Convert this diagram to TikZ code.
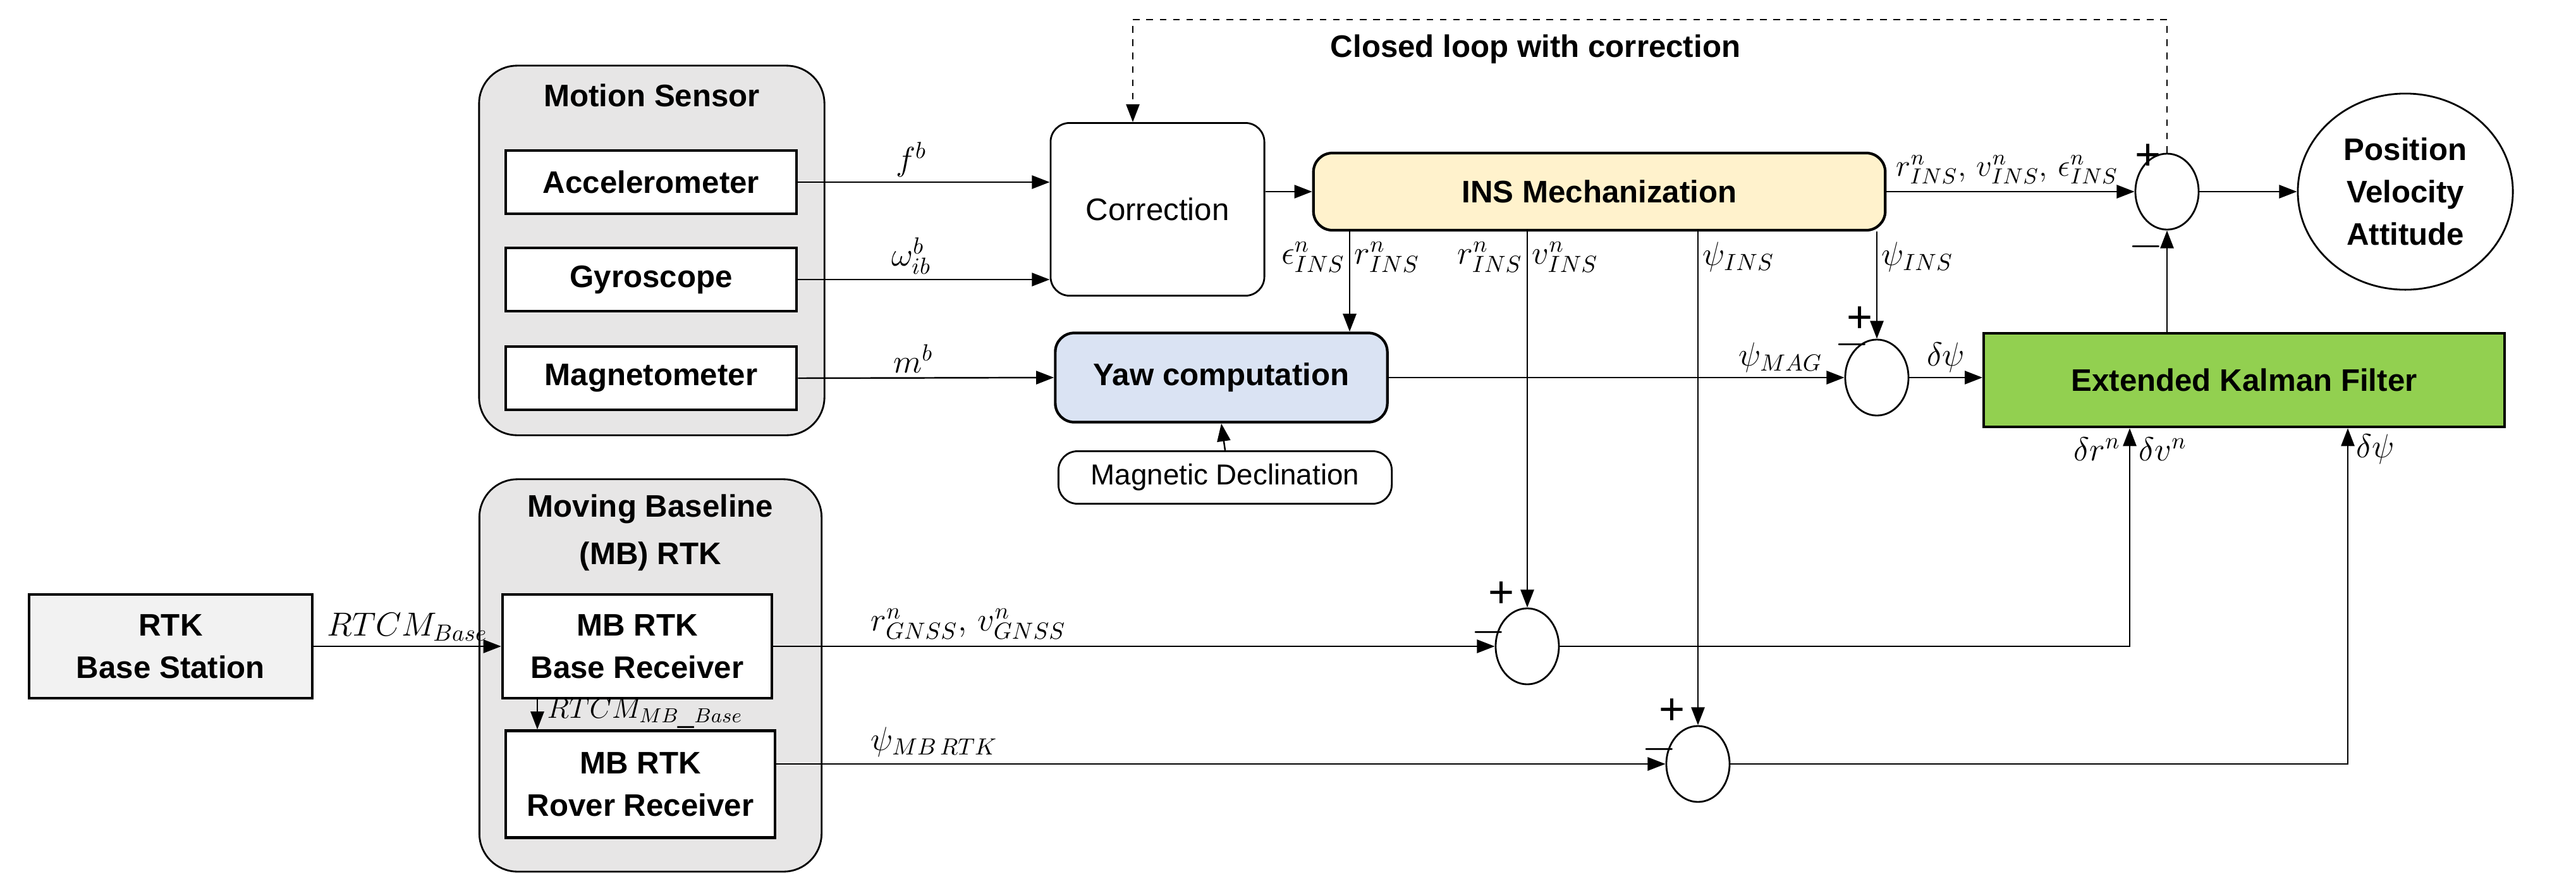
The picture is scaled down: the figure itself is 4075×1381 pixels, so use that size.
\RequirePackage{fix-cm}
\documentclass[tikz,border=0pt]{standalone}
\usepackage{fontspec}
\setmainfont{Liberation Sans}
\usetikzlibrary{arrows.meta,shapes.geometric}
\definecolor{grp}{HTML}{E7E6E6}
\definecolor{insy}{HTML}{FFF2CC}
\definecolor{yawb}{HTML}{DAE3F3}
\definecolor{ekfg}{HTML}{92D050}
\definecolor{rtkg}{HTML}{F2F2F2}
\begin{document}
\begin{tikzpicture}[x=0.01cm,y=-0.01cm,
  >={Triangle[length=8pt,width=6pt]},
  every node/.style={font=\fontsize{14}{16}\selectfont\bfseries},
  grpbox/.style={draw,line width=0.8pt,fill=grp,rounded corners=0.6cm},
  box/.style={draw,line width=1.2pt,fill=white,align=center,inner sep=0pt},
  rbox/.style={draw,line width=0.8pt,rounded corners=0.3cm,align=center,inner sep=0pt},
  sum/.style={draw,line width=0.8pt,ellipse,inner sep=0pt,minimum width=1.0cm,minimum height=1.2cm},
  lbl/.style={font=\fontsize{15}{17}\selectfont,inner sep=2pt},
  pm/.style={font=\fontsize{20}{20}\selectfont,inner sep=0pt},
  conn/.style={line width=0.7pt,->}]
\useasboundingbox (0,0) rectangle (4075,1381);
% groups
\node[grpbox,minimum width=5.46cm,minimum height=5.84cm] (ms) at (1031,396) {};
\node (mst) at (1031,151) {Motion Sensor};
\node[grpbox,minimum width=5.41cm,minimum height=6.2cm] (mbg) at (1029,1068) {};
\node (mbt1) at (1029,805) {Moving Baseline};
\node (mbt2) at (1029,880) {(MB) RTK};
% boxes
\node[box,minimum width=4.6cm,minimum height=1.0cm] (acc) at (1030,288) {Accelerometer};
\node[box,minimum width=4.6cm,minimum height=1.0cm] (gyr) at (1030,442) {Gyroscope};
\node[box,minimum width=4.6cm,minimum height=1.0cm] (mag) at (1030,598) {Magnetometer};
\node[rbox,minimum width=3.38cm,minimum height=2.73cm,font=\fontsize{14}{16}\selectfont] (cor) at (1831,331) {Correction};
\node[rbox,fill=insy,line width=1.2pt,minimum width=9.04cm,minimum height=1.22cm] (ins) at (2530,303) {INS Mechanization};
\node[rbox,fill=yawb,line width=1.2pt,minimum width=5.25cm,minimum height=1.41cm] (yaw) at (1932,597) {Yaw computation};
\node[rbox,minimum width=5.27cm,minimum height=0.83cm,font=\fontsize{13}{15}\selectfont] (dec) at (1938,755) {Magnetic Declination};
\node[sum] (s1) at (3428,303) {};
\node[draw,line width=0.8pt,ellipse,minimum width=3.4cm,minimum height=3.1cm,align=center,inner sep=0pt,font=\fontsize{14}{19}\selectfont\bfseries] (pva) at (3805,303) {Position\\Velocity\\Attitude};
\node[sum] (s2) at (2969,597) {};
\node[box,fill=ekfg,minimum width=8.23cm,minimum height=1.48cm] (ekf) at (3550,601) {Extended Kalman Filter};
\node[box,minimum width=4.26cm,minimum height=1.64cm,font=\fontsize{14}{19}\selectfont\bfseries] (mbb) at (1008,1022) {MB RTK\\Base Receiver};
\node[box,minimum width=4.26cm,minimum height=1.69cm,font=\fontsize{14}{19}\selectfont\bfseries] (rov) at (1013,1240) {MB RTK\\Rover Receiver};
\node[box,fill=rtkg,minimum width=4.47cm,minimum height=1.64cm,font=\fontsize{14}{19}\selectfont\bfseries] (rtk) at (270,1022) {RTK\\Base Station};
\node[sum] (s3) at (2416,1022) {};
\node[sum] (s4) at (2686,1208) {};
\node (clt) at (2429,78) {Closed loop with correction};
% helper coordinates
\coordinate (xe) at (2135,0);
\coordinate (xr) at (2416,0);
\coordinate (xp) at (2686,0);
\coordinate (xq) at (2969,0);
\coordinate (k1) at (3369,1022);
\coordinate (k2) at (3714,1208);
\coordinate (fb1) at (3428,31);
\coordinate (fb2) at (1792,31);
\coordinate (xm) at (850,0);
% connectors
\draw[conn] (acc.east) -- node[lbl,above,pos=0.45]{$f^{b}$} (acc.east -| cor.west);
\draw[conn] (gyr.east) -- node[lbl,above,pos=0.45]{$\omega^{b}_{ib}$} (gyr.east -| cor.west);
\draw[conn] (mag.east) -- node[lbl,above,pos=0.45]{$m^{b}$} (yaw.west);
\draw[conn] (ins.west -| cor.east) -- (ins.west);
\draw[conn] (ins.east) -- (s1.west);
\draw[conn] (s1.east) -- (pva.west);
\draw[conn] (ekf.north -| s1) -- (s1.south);
\draw[conn] (ins.south -| xe) -- (yaw.north -| xe);
\draw[conn] (dec.north) -- (yaw.south);
\draw[conn] (yaw.east) -- node[lbl,above,pos=0.86]{$\psi_{MAG}$} (s2.west);
\draw[conn] (ins.south -| xq) -- (s2.north);
\draw[conn] (s2.east) -- node[lbl,above]{$\delta\psi$} (s2.east -| ekf.west);
\draw[conn] (ins.south -| xr) -- (s3.north);
\draw[conn] (ins.south -| xp) -- (s4.north);
\draw[conn] (rtk.east) -- node[lbl,above]{$RTCM_{Base}$} (mbb.west);
\draw[conn] (mbb.east) -- (s3.west);
\draw[conn] (rov.east |- s4) -- (s4.west);
\draw[conn] (mbb.south -| xm) -- (rov.north -| xm);
\draw[conn] (s3.east) -- (k1) -- (ekf.south -| k1);
\draw[conn] (s4.east) -- (k2) -- (ekf.south -| k2);
\draw[line width=0.7pt,dashed,->] (s1.north) -- (fb1) -- (fb2) -- (cor.north -| fb2);
% labels
\node[lbl,anchor=south west,font=\fontsize{14}{16}\selectfont] (lo) at (2992,298) {$r^{n}_{INS},\,v^{n}_{INS},\,\epsilon^{n}_{INS}$};
\node[lbl,anchor=south west] (lg) at (1370,1018) {$r^{n}_{GNSS},\,v^{n}_{GNSS}$};
\node[lbl,anchor=south west] (lm) at (1370,1204) {$\psi_{MB\,RTK}$};
\node[lbl,anchor=west,font=\fontsize{13}{15}\selectfont] (lr) at (858,1128) {$RTCM_{MB\_Base}$};
\node[lbl,anchor=north east] (l1) at (2135,375) {$\epsilon^{n}_{INS}$};
\node[lbl,anchor=north west] (l2) at (2135,375) {$r^{n}_{INS}$};
\node[lbl,anchor=north east] (l3) at (2416,375) {$r^{n}_{INS}$};
\node[lbl,anchor=north west] (l4) at (2416,375) {$v^{n}_{INS}$};
\node[lbl,anchor=north west] (l5) at (2686,375) {$\psi_{INS}$};
\node[lbl,anchor=north west] (l6) at (2969,375) {$\psi_{INS}$};
\node[lbl,anchor=east] (l7) at (3362,710) {$\delta r^{n}$};
\node[lbl,anchor=west] (l8) at (3376,710) {$\delta v^{n}$};
\node[lbl,anchor=west] (l9) at (3720,710) {$\delta\psi$};
\node[pm] (p1) at (3398,248) {+};
\node[pm] (m1) at (3395,390) {$-$};
\node[pm] (p2) at (2942,505) {+};
\node[pm] (m2) at (2930,545) {$-$};
\node[pm] (p3) at (2375,940) {+};
\node[pm] (m3) at (2355,1000) {$-$};
\node[pm] (p4) at (2645,1125) {+};
\node[pm] (m4) at (2625,1185) {$-$};
\end{tikzpicture}
\end{document}
